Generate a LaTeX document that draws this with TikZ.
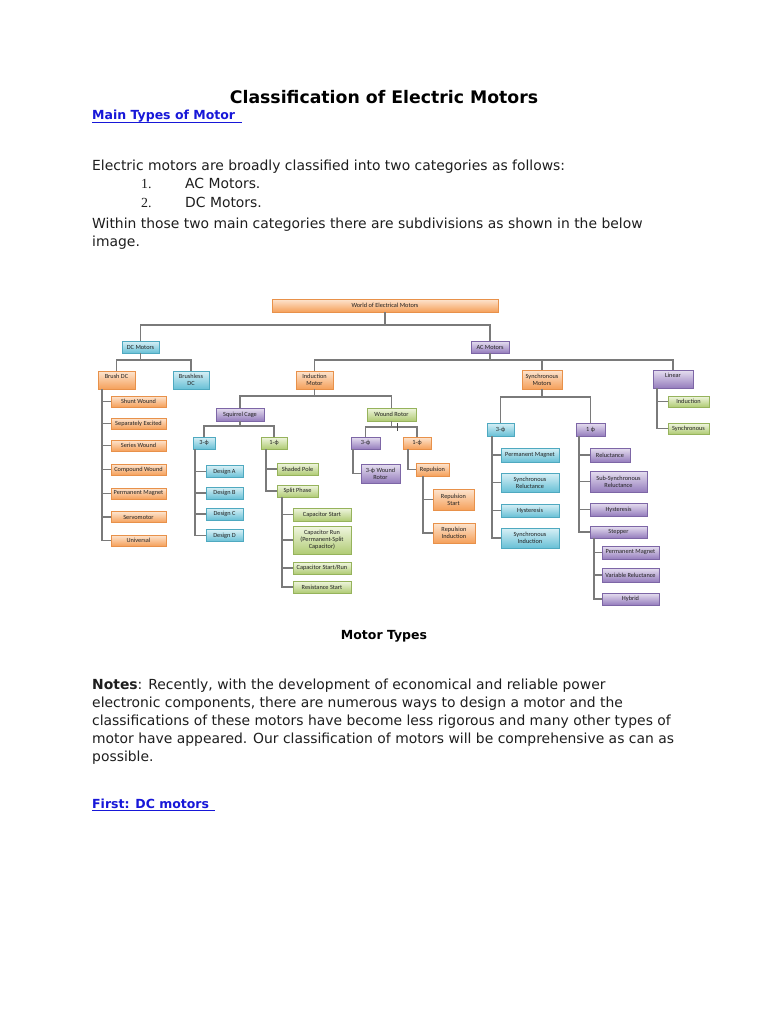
\documentclass[tikz,border=0pt]{standalone}
\usepackage{fontspec}
\setmainfont{DejaVu Sans}
\newfontfamily\boxfont{Carlito}
\newfontfamily\numfont{Liberation Serif}
\usetikzlibrary{shadows}
\definecolor{oT}{HTML}{FDE5D0}\definecolor{oB}{HTML}{F5A05A}\definecolor{oD}{HTML}{E8914A}
\definecolor{cT}{HTML}{D8F0F6}\definecolor{cB}{HTML}{68C0D6}\definecolor{cD}{HTML}{4FA9C0}
\definecolor{pT}{HTML}{E6DFF0}\definecolor{pB}{HTML}{957DBD}\definecolor{pD}{HTML}{7D66A6}
\definecolor{gT}{HTML}{F0F6E0}\definecolor{gB}{HTML}{B0CB74}\definecolor{gD}{HTML}{96B35C}
\definecolor{lineg}{HTML}{7A7A7A}
\definecolor{boxtxt}{HTML}{222222}
\definecolor{bodyc}{HTML}{1E1E1E}
\definecolor{linkc}{HTML}{1717D8}
\tikzset{
  bx/.style={draw=#1D, line width=0.35pt, top color=#1T, bottom color=#1B,
    drop shadow={opacity=0.3, shadow xshift=0.9pt, shadow yshift=-0.9pt},
    inner sep=0pt, align=center, text=boxtxt,
    font=\boxfont\fontsize{6.3}{6.8}\selectfont},
  ln/.style={draw=lineg, line width=1.1pt},
  txt/.style={inner sep=0pt, anchor=base west, text=bodyc, font=\fontsize{13.9}{16}\selectfont},
  numtxt/.style={inner sep=0pt, anchor=base west, text=bodyc, font=\numfont\fontsize{13.9}{16}\selectfont},
  link/.style={inner sep=0pt, anchor=base west, text=linkc, font=\bfseries\fontsize{12.5}{15}\selectfont},
  linkul/.style={draw=linkc, line width=0.9pt},
  boldc/.style={inner sep=0pt, anchor=base, text=black, font=\bfseries\fontsize{#1}{#1}\selectfont}
}
\newcommand\bxn[7]{\node[bx=#2, minimum width=#5pt, minimum height=#6pt] (#1) at (#3,#4) {#7};}
\begin{document}
\begin{tikzpicture}[x=1pt,y=-1pt]
\useasboundingbox (0,0) rectangle (768,1024);
\fill[white] (0,0) rectangle (768,1024);

% ---------- text ----------
\node[boldc=17.3] (title) at (384,104) {Classification of Electric Motors};
\node[link] (lk1) at (92,120) {Main Types of Motor};
\draw[linkul] ([yshift=-2pt]lk1.base west) -- ++(150,0);
\node[txt] (p1) at (92,170.5) {Electric motors are broadly classified into two categories as follows:};
\node[numtxt] (n1) at (141,189) {1.};
\node[txt] (i1) at (185,189) {AC Motors.};
\node[numtxt] (n2) at (141,208) {2.};
\node[txt] (i2) at (185,208) {DC Motors.};
\node[txt] (p2) at (92,229) {Within those two main categories there are subdivisions as shown in the below};
\node[txt] (p3) at (92,247) {image.};

\node[boldc=12.5] (cap) at (384,639) {Motor Types};
\node[txt] (q1) at (92,689) {\textbf{Notes}: Recently, with the development of economical and reliable power};
\node[txt] (q2) at (92,707) {electronic components, there are numerous ways to design a motor and the};
\node[txt] (q3) at (92,725) {classifications of these motors have become less rigorous and many other types of};
\node[txt] (q4) at (92,743) {motor have appeared. Our classification of motors will be comprehensive as can as};
\node[txt] (q5) at (92,761) {possible.};
\node[link] (lk2) at (92,808) {First: DC motors};
\draw[linkul] ([yshift=-2pt]lk2.base west) -- ++(123,0);

% ---------- boxes ----------
\bxn{top}{o}{385}{305.5}{226}{13}{World of Electrical Motors}
\bxn{dc}{c}{140.5}{347}{37}{12}{DC Motors}
\bxn{ac}{p}{490}{347}{38}{12}{AC Motors}
\bxn{brush}{o}{116.5}{380}{37}{18}{Brush DC\\\mbox{}}
\bxn{brushless}{c}{191}{380}{36}{18}{Brushless\\DC}
\bxn{ind}{o}{314.5}{380}{37}{18}{Induction\\Motor}
\bxn{syn}{o}{542}{379.5}{40}{19}{Synchronous\\Motors}
\bxn{lin}{p}{673}{379}{40}{18}{Linear\\\mbox{}}

\bxn{shunt}{o}{138.5}{401.5}{55}{11}{Shunt Wound}
\bxn{sep}{o}{138.5}{423.5}{55}{11}{Separately Excited}
\bxn{ser}{o}{138.5}{445.5}{55}{11}{Series Wound}
\bxn{comp}{o}{138.5}{469.5}{55}{11}{Compound Wound}
\bxn{pm}{o}{138.5}{493.5}{55}{11}{Permanent Magnet}
\bxn{servo}{o}{138.5}{517}{55}{11}{Servomotor}
\bxn{univ}{o}{138.5}{540.5}{55}{11}{Universal}

\bxn{sq}{p}{240}{414.5}{48}{13}{Squirrel Cage}
\bxn{wr}{g}{391.5}{414.5}{49}{13}{Wound Rotor}

\bxn{sq3}{c}{204}{443}{22}{12}{3-ϕ}
\bxn{sq1}{g}{274}{443}{26}{12}{1-ϕ}
\bxn{desA}{c}{224.5}{471.5}{37}{12}{Design A}
\bxn{desB}{c}{224.5}{493}{37}{12}{Design B}
\bxn{desC}{c}{224.5}{514}{37}{12}{Design C}
\bxn{desD}{c}{224.5}{535.5}{37}{12}{Design D}
\bxn{shp}{g}{297.5}{469}{41}{12}{Shaded Pole}
\bxn{spl}{g}{297.5}{491}{41}{12}{Split Phase}
\bxn{capst}{g}{322}{514.5}{58}{13}{Capacitor Start}
\bxn{caprun}{g}{322}{540}{58}{28}{Capacitor Run\\(Permanent-Split\\Capacitor)}
\bxn{capsr}{g}{322}{568}{58}{12}{Capacitor Start/Run}
\bxn{resst}{g}{322}{587}{58}{12}{Resistance Start}

\bxn{wr3}{p}{365.5}{443}{29}{12}{3-ϕ}
\bxn{wr1}{o}{417}{443}{28}{12}{1-ϕ}
\bxn{wr3r}{p}{380.5}{473.5}{39}{19}{3-ϕ Wound\\Rotor}
\bxn{rep}{o}{432.5}{469.5}{33}{13}{Repulsion}
\bxn{repst}{o}{453.5}{499.5}{41}{21}{Repulsion\\Start}
\bxn{repind}{o}{454}{533}{42}{20}{Repulsion\\Induction}

\bxn{s3}{c}{500.5}{429.5}{27}{13}{3-ϕ}
\bxn{s1}{p}{590.5}{429.5}{29}{13}{1 ϕ}
\bxn{spm}{c}{530}{455}{58}{14}{Permanent Magnet}
\bxn{srel}{c}{530}{482.5}{58}{19}{Synchronous\\Reluctance}
\bxn{shys}{c}{530}{510.5}{58}{13}{Hysteresis}
\bxn{sind}{c}{530}{538}{58}{20}{Synchronous\\Induction}
\bxn{rel}{p}{610}{455}{40}{14}{Reluctance}
\bxn{subs}{p}{618.5}{481.5}{57}{21}{Sub-Synchronous\\Reluctance}
\bxn{hys1}{p}{618.5}{509.5}{57}{13}{Hysteresis}
\bxn{step}{p}{618.5}{532}{57}{12}{Stepper}
\bxn{stpm}{p}{630.5}{552.5}{57}{13}{Permanent Magnet}
\bxn{stvr}{p}{630.5}{575}{57}{14}{Variable Reluctance}
\bxn{sthy}{p}{630.5}{599}{57}{12}{Hybrid}

\bxn{lind}{g}{688.5}{401.5}{41}{11}{Induction}
\bxn{lsyn}{g}{688.5}{428.5}{41}{11}{Synchronous}

% ---------- connectors ----------
\coordinate (bA) at (0,325);
\draw[ln] (top.south) -- (top.south |- bA);
\draw[ln] (dc.north) -- (dc.north |- bA) -- (ac.north |- bA) -- (ac.north);

\coordinate (bF) at (0,360);
\draw[ln] (dc.south) -- (dc.south |- bF);
\draw[ln] (brush.north) -- (brush.north |- bF) -- (brushless.north |- bF) -- (brushless.north);
\draw[ln] (ac.south) -- (ac.south |- bF);
\draw[ln] (ind.north) -- (ind.north |- bF) -- (lin.north |- bF) -- (lin.north);
\draw[ln] (syn.north) -- (syn.north |- bF);

\coordinate (xBr) at (102,0);
\foreach \n in {shunt,sep,ser,comp,pm,servo,univ}
  \draw[ln] (brush.south -| xBr) |- (\n.west);

\coordinate (bB) at (0,396);
\draw[ln] (ind.south) -- (ind.south |- bB);
\draw[ln] (sq.north) -- (sq.north |- bB) -- (wr.north |- bB) -- (wr.north);

\coordinate (bC) at (0,426);
\draw[ln] (sq.south) -- (sq.south |- bC);
\draw[ln] (sq3.north) -- (sq3.north |- bC) -- (sq1.north |- bC) -- (sq1.north);
\coordinate (xS3) at (195,0);
\foreach \n in {desA,desB,desC,desD}
  \draw[ln] (sq3.south -| xS3) |- (\n.west);
\coordinate (xS1) at (266,0);
\foreach \n in {shp,spl}
  \draw[ln] (sq1.south -| xS1) |- (\n.west);
\coordinate (xSp) at (282,0);
\foreach \n in {capst,caprun,capsr,resst}
  \draw[ln] (spl.south -| xSp) |- (\n.west);

\coordinate (bD) at (0,427);
\draw[ln] (wr.south) -- (wr.south |- bD);
\draw[ln] (wr3.north) -- (wr3.north |- bD) -- (wr1.north |- bD) -- (wr1.north);
\coordinate (tk) at (397,427);
\draw[draw=black!70, line width=1pt] ([yshift=4pt]tk) -- ([yshift=-4pt]tk);
\coordinate (xW3) at (353,0);
\draw[ln] (wr3.south -| xW3) |- (wr3r.west);
\coordinate (xW1) at (408,0);
\draw[ln] (wr1.south -| xW1) |- (rep.west);
\coordinate (xRp) at (423,0);
\foreach \n in {repst,repind}
  \draw[ln] (rep.south -| xRp) |- (\n.west);

\coordinate (bE) at (0,397);
\draw[ln] (syn.south) -- (syn.south |- bE);
\draw[ln] (s3.north) -- (s3.north |- bE) -- (s1.north |- bE) -- (s1.north);
\coordinate (xY3) at (492,0);
\foreach \n in {spm,srel,shys,sind}
  \draw[ln] (s3.south -| xY3) |- (\n.west);
\coordinate (xY1) at (579,0);
\foreach \n in {rel,subs,hys1,step}
  \draw[ln] (s1.south -| xY1) |- (\n.west);
\coordinate (xSt) at (594,0);
\foreach \n in {stpm,stvr,sthy}
  \draw[ln] (step.south -| xSt) |- (\n.west);

\coordinate (xL) at (657,0);
\foreach \n in {lind,lsyn}
  \draw[ln] (lin.south -| xL) |- (\n.west);
\end{tikzpicture}
\end{document}
